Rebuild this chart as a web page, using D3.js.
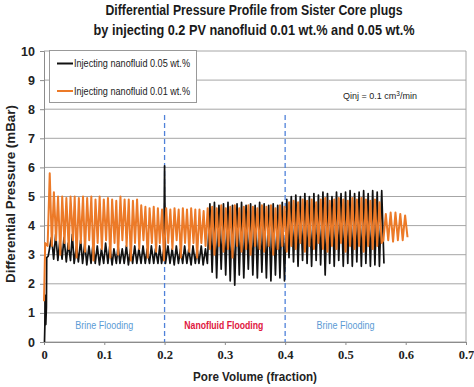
<!DOCTYPE html>
<html><head><meta charset="utf-8">
<script src="https://cdn.jsdelivr.net/npm/d3@7/dist/d3.min.js"></script>
<style>body{margin:0;background:#fff}svg{display:block}</style>
</head><body>
<script>
// ---- data ----
const titleLines = ["Differential Pressure Profile from Sister Core plugs",
                    "by injecting 0.2 PV nanofluid 0.01 wt.% and 0.05 wt.%"];
const xTicks = [0, 0.1, 0.2, 0.3, 0.4, 0.5, 0.6, 0.7];
const yTicks = [0,1,2,3,4,5,6,7,8,9,10];
const seriesNames = ["Injecting nanofluid 0.05 wt.%", "Injecting nanofluid 0.01 wt.%"];
const phaseLines = [0.2, 0.4];
const phaseLabels = [["Brine Flooding", 0.1], ["Nanofluid Flooding", 0.3], ["Brine Flooding", 0.5]];

// 0.05 wt.% (black) : [PV, mBar]
const black = [
 [0.0008,0.0],[0.0015,0.6],[0.002,1.6],[0.003,0.6],[0.004,1.2],[0.0045,2.9],[0.007,2.95],
 [0.0125,3.6],[0.016,2.85],[0.0194,3.7],[0.023,2.8],[0.0263,3.5],[0.030,2.85],[0.0332,3.6],[0.037,2.75],
 [0.0401,3.4],[0.044,2.8],[0.0470,3.7],[0.050,2.7],[0.0539,3.3],[0.057,2.75],[0.0608,3.5],[0.064,2.7],
 [0.0677,3.4],[0.071,2.65],[0.0746,3.3],[0.078,2.7],[0.0815,3.4],[0.085,2.7],[0.0884,3.3],[0.092,2.65],
 [0.0953,3.2],[0.099,2.7],[0.1022,3.4],[0.106,2.7],[0.1091,3.3],[0.113,2.65],[0.1160,3.2],[0.120,2.7],
 [0.1229,3.3],[0.126,2.7],[0.1298,3.2],[0.133,2.7],[0.1367,3.3],[0.140,2.65],[0.1436,3.2],[0.147,2.7],
 [0.1505,3.3],[0.154,2.7],[0.1574,3.2],[0.161,2.7],[0.1643,3.3],[0.168,2.7],[0.1712,3.2],[0.175,2.7],
 [0.1781,3.3],[0.182,2.7],[0.1850,3.2],[0.189,2.7],[0.1919,3.3],[0.195,2.7],[0.1988,3.2],[0.2000,6.05],
 [0.2015,2.7],[0.2057,3.3],[0.209,2.7],[0.2126,3.2],[0.216,2.65],[0.2195,3.3],[0.223,2.7],[0.2264,3.2],
 [0.230,2.7],[0.2333,3.3],[0.237,2.7],[0.2402,3.2],[0.244,2.65],[0.2471,3.3],[0.251,2.7],[0.2540,3.2],
 [0.257,2.7],[0.2609,3.3],[0.264,2.65],[0.2678,3.2],[0.271,2.7],
 [0.2752,4.75],[0.2789,2.4],[0.2827,4.8],[0.2864,2.2],[0.2902,4.7],[0.2939,2.5],[0.2977,4.75],[0.3014,2.3],
 [0.3052,4.8],[0.3089,2.1],[0.3127,4.7],[0.3164,1.95],[0.3202,4.75],[0.3239,2.3],[0.3277,4.8],[0.3314,2.2],
 [0.3352,4.7],[0.3389,2.5],[0.3427,4.75],[0.3464,2.3],[0.3502,4.7],[0.3539,2.2],[0.3577,4.8],[0.3614,2.4],
 [0.3652,4.75],[0.3689,2.2],[0.3727,4.7],[0.3764,2.1],[0.3802,4.75],[0.3839,2.3],[0.3877,4.7],[0.3914,2.2],
 [0.3952,4.8],[0.3989,2.1],
 [0.4027,4.9],[0.4064,2.9],[0.4102,5.0],[0.4139,2.75],[0.4177,5.05],[0.4214,2.6],[0.4252,5.0],[0.4289,2.8],
 [0.4327,5.1],[0.4364,2.7],[0.4402,5.0],[0.4439,2.6],[0.4477,5.1],[0.4514,2.8],[0.4552,5.05],[0.4589,2.65],
 [0.4627,5.15],[0.4664,2.3],[0.4702,5.1],[0.4739,2.7],[0.4777,5.0],[0.4814,2.6],[0.4852,5.15],[0.4889,2.8],
 [0.4927,5.1],[0.4964,2.6],[0.5002,5.15],[0.5039,2.7],[0.5077,5.2],[0.5114,2.6],[0.5152,5.1],[0.5189,2.75],
 [0.5227,5.15],[0.5264,2.6],[0.5302,5.2],[0.5339,2.7],[0.5377,5.1],[0.5414,2.6],[0.5452,5.2],[0.5489,2.65],
 [0.5527,5.15],[0.5564,2.6],[0.5602,5.2],[0.5639,2.7]
];

// 0.01 wt.% (orange) : [PV, mBar]
const orange = [
 [0.000,1.4],[0.002,3.4],[0.006,3.3],
 [0.0095,5.8],[0.013,3.3],[0.0164,5.15],[0.020,3.5],[0.0233,5.0],[0.027,3.0],[0.0302,5.0],[0.034,3.4],
 [0.0371,4.95],[0.041,3.2],[0.0440,5.0],[0.048,3.5],[0.0509,5.0],[0.054,2.9],[0.0578,4.95],[0.061,3.4],
 [0.0647,5.0],[0.068,3.1],[0.0716,4.95],[0.075,3.5],[0.0785,5.0],[0.082,2.8],[0.0854,4.9],[0.089,3.4],
 [0.0923,5.0],[0.096,3.2],[0.0992,4.9],[0.103,3.5],[0.1061,4.95],[0.110,2.9],[0.1130,4.9],[0.117,3.4],
 [0.1199,4.85],[0.123,3.0],[0.1268,5.0],[0.130,3.5],[0.1337,4.9],[0.137,3.3],[0.1406,4.9],[0.144,2.8],
 [0.1475,4.85],[0.151,3.4],[0.1544,4.9],[0.158,3.2],[0.1613,4.7],[0.165,3.5],[0.1682,4.65],[0.172,2.9],
 [0.1751,4.6],[0.179,3.4],[0.1820,4.65],[0.186,3.1],[0.1889,4.6],[0.192,3.4],[0.1958,4.55],[0.199,2.8],
 [0.2027,4.6],[0.206,3.4],[0.2096,4.55],[0.213,3.2],[0.2165,4.6],[0.220,3.5],[0.2234,4.55],[0.227,2.9],
 [0.2303,4.6],[0.234,3.4],[0.2372,4.55],[0.241,3.1],[0.2441,4.6],[0.248,3.4],[0.2510,4.55],[0.254,2.9],
 [0.2579,4.55],[0.261,3.4],[0.2648,4.5],[0.268,3.3],
 [0.2715,4.6],[0.2752,3.2],[0.2790,4.65],[0.2827,3.0],[0.2865,4.6],[0.2902,3.3],[0.2940,4.7],[0.2977,3.1],
 [0.3015,4.6],[0.3052,3.2],[0.3090,4.65],[0.3127,2.9],[0.3165,4.7],[0.3202,3.3],[0.3240,4.6],[0.3277,3.1],
 [0.3315,4.65],[0.3352,3.2],[0.3390,4.7],[0.3427,3.0],[0.3465,4.65],[0.3502,3.3],[0.3540,4.6],[0.3577,3.2],
 [0.3615,4.7],[0.3652,3.1],[0.3690,4.65],[0.3727,3.3],[0.3765,4.7],[0.3802,3.0],[0.3840,4.6],[0.3877,3.2],
 [0.3915,4.7],[0.3952,3.3],[0.3990,4.65],[0.4027,3.1],
 [0.4065,4.8],[0.4102,3.3],[0.4140,4.85],[0.4177,3.2],[0.4215,4.8],[0.4252,3.4],[0.4290,4.9],[0.4327,3.1],
 [0.4365,4.85],[0.4402,3.3],[0.4440,4.9],[0.4477,3.2],[0.4515,4.8],[0.4552,3.4],[0.4590,4.9],[0.4627,3.2],
 [0.4665,4.95],[0.4702,3.1],[0.4740,4.85],[0.4777,3.3],[0.4815,4.9],[0.4852,3.2],[0.4890,4.95],[0.4927,3.4],
 [0.4965,4.9],[0.5002,3.1],[0.5040,4.85],[0.5077,3.3],[0.5115,4.95],[0.5152,3.2],[0.5190,4.9],[0.5227,3.3],
 [0.5265,4.95],[0.5302,3.1],[0.5340,4.9],[0.5377,3.3],[0.5415,4.85],[0.5452,3.2],[0.5490,4.9],[0.5527,3.3],
 [0.5565,4.8],[0.5600,3.4],
 [0.5630,3.5],[0.5670,4.4],[0.5710,3.5],[0.5750,4.45],[0.5790,3.45],[0.5830,4.45],[0.5870,3.5],
 [0.5910,4.4],[0.5950,3.5],[0.5990,4.35],[0.6030,3.6]
];

// ---- drawing ----
const W = 474, H = 387;
const svg = d3.select("body").append("svg").attr("width", W).attr("height", H);
const x = d3.scaleLinear().domain([0, 0.7]).range([44, 466]);
const y = d3.scaleLinear().domain([0, 10]).range([342, 51]);
const sans = "'Liberation Sans',Arial,sans-serif";

function fitText(sel, w) {
  return sel.attr("textLength", w).attr("lengthAdjust", "spacingAndGlyphs");
}

// title
const tw = [297, 321];
titleLines.forEach((t, i) => {
  fitText(svg.append("text").attr("x", 254).attr("y", 15 + i * 20)
    .attr("text-anchor", "middle").attr("font-family", sans).attr("font-weight", "bold")
    .attr("font-size", 14).attr("fill", "#1a1a1a").text(t), tw[i]);
});

// grid
svg.append("g").selectAll("line").data(yTicks).join("line")
  .attr("x1", x(0)).attr("x2", x(0.7)).attr("y1", d => y(d)).attr("y2", d => y(d))
  .attr("stroke", "#a6a6a6").attr("stroke-width", 1);
svg.append("line").attr("x1", x(0.7)).attr("x2", x(0.7)).attr("y1", y(10)).attr("y2", y(0))
  .attr("stroke", "#a6a6a6");

// axes
const gx = svg.append("g").attr("transform", `translate(0,${y(0)})`)
  .call(d3.axisBottom(x).tickValues(xTicks).tickFormat(d => d === 0 ? "0" : d3.format(".1f")(d)).tickSize(3).tickPadding(5));
gx.select(".domain").attr("stroke", "#8c8c8c");
gx.selectAll(".tick line").attr("stroke", "#8c8c8c");
gx.selectAll("text").attr("font-family", "'Liberation Serif','DejaVu Serif',serif")
  .attr("font-size", 12.5).attr("font-weight", "bold").attr("fill", "#222");

const gy = svg.append("g").attr("transform", `translate(${x(0)},0)`)
  .call(d3.axisLeft(y).tickValues(yTicks).tickFormat(d3.format("d")).tickSize(4).tickPadding(5));
gy.select(".domain").attr("stroke", "#8c8c8c");
gy.selectAll(".tick line").attr("stroke", "#8c8c8c");
gy.selectAll("text").attr("font-family", sans).attr("font-size", 12.5)
  .attr("font-weight", "bold").attr("fill", "#222");

// axis titles
fitText(svg.append("text").attr("x", 255).attr("y", 381).attr("text-anchor", "middle")
  .attr("font-family", sans).attr("font-weight", "bold").attr("font-size", 13.5).attr("fill", "#222")
  .text("Pore Volume (fraction)"), 124);
fitText(svg.append("text").attr("transform", "translate(15,194) rotate(-90)").attr("text-anchor", "middle")
  .attr("font-family", sans).attr("font-weight", "bold").attr("font-size", 13.5).attr("fill", "#222")
  .text("Differential Pressure (mBar)"), 178);

// phase dashed lines
svg.append("g").selectAll("line").data(phaseLines).join("line")
  .attr("x1", d => x(d)).attr("x2", d => x(d)).attr("y1", y(7.8)).attr("y2", y(0))
  .attr("stroke", "#4f81d9").attr("stroke-width", 1.3).attr("stroke-dasharray", "5,3");

// series
const line = d3.line().x(d => x(d[0])).y(d => y(d[1]));
svg.append("path").datum(black).attr("d", line).attr("fill", "none")
  .attr("stroke", "#111").attr("stroke-width", 1.7).attr("stroke-linejoin", "round");
svg.append("path").datum(orange).attr("d", line).attr("fill", "none")
  .attr("stroke", "#ec7a28").attr("stroke-width", 2).attr("stroke-linejoin", "round");

// phase labels
phaseLabels.forEach(([t, v], i) => {
  fitText(svg.append("text").attr("x", x(v) + (i === 1 ? -1 : 0)).attr("y", 329).attr("text-anchor", "middle")
    .attr("font-family", sans).attr("font-size", 10)
    .attr("font-weight", i === 1 ? "bold" : "normal")
    .attr("fill", i === 1 ? "#e0163e" : "#5b9bd5").text(t), i === 1 ? 79 : 58);
});

// Qinj note
const q = svg.append("text").attr("x", 343).attr("y", 99).attr("font-family", sans)
  .attr("font-size", 9).attr("fill", "#222");
q.append("tspan").text("Qinj = 0.1 cm");
q.append("tspan").attr("font-size", 6.5).attr("dy", -3.5).text("3");
q.append("tspan").attr("font-size", 9).attr("dy", 3.5).text("/min");

// legend
const lg = svg.append("g");
lg.append("rect").attr("x", 49.5).attr("y", 50.5).attr("width", 147).attr("height", 52)
  .attr("fill", "#fff").attr("stroke", "#999");
const legColors = ["#111", "#ec7a28"];
seriesNames.forEach((n, i) => {
  const yy = 63.5 + i * 27.5;
  lg.append("line").attr("x1", 57).attr("x2", 73).attr("y1", yy).attr("y2", yy)
    .attr("stroke", legColors[i]).attr("stroke-width", 2);
  fitText(lg.append("text").attr("x", 74).attr("y", yy + 3.5).attr("font-family", sans)
    .attr("font-size", 10.5).attr("fill", "#222").text(n), 116);
});
</script>
</body></html>
